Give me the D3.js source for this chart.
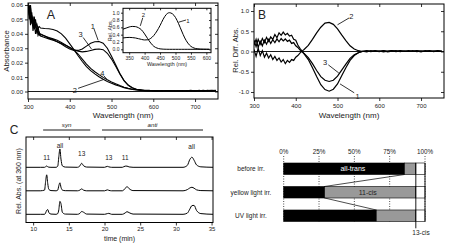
<!DOCTYPE html>
<html>
<head>
<meta charset="utf-8">
<script src="https://cdn.jsdelivr.net/npm/d3@7"></script>
<style>
body { margin: 0; background: #fff; }
svg { display: block; }
</style>
</head>
<body>
<svg id="fig" width="449" height="243"></svg>
<script>
// ---- A : absorption spectra (1 before, 2 yellow, 3 UV, 4) ----
const wlA = [300,303,306,309,312,315,318,321,324,327,330,
  340,350,360,370,380,390,400,410,420,430,440,450,460,470,480,490,500,
  510,520,530,540,550,560,570,580,590,600,610,620,630,640,650,660,670,680,690,700,710,720,730,740,750];
const absA1 = [0.060,0.050,0.058,0.047,0.052,0.043,0.047,0.041,0.043,0.039,0.040,
  0.0385,0.037,0.036,0.0345,0.033,0.031,0.0295,0.0285,0.0285,0.0295,0.0315,0.0335,0.0345,0.0347,0.0335,0.030,0.0245,
  0.0185,0.0125,0.0075,0.0042,0.0024,0.0014,0.001,0.0008,0.0006,0.0006,0.0003,0.0007,0.0004,0.0002,0.0006,0.0003,0.0005,0.0001,0.0006,0.0004,0.0008,0.0002,0.0006,0.0009,0.0005];
const absA2 = [0.057,0.060,0.049,0.055,0.046,0.052,0.045,0.047,0.044,0.045,0.044,
  0.0437,0.0435,0.043,0.042,0.040,0.037,0.033,0.029,0.0248,0.0208,0.0173,0.0145,0.0122,0.0102,0.0085,0.007,0.0057,
  0.0046,0.0036,0.0027,0.002,0.0014,0.001,0.0008,0.0005,0.0007,0.0003,0.0006,0.0002,0.0005,0.0007,0.0003,0.0006,0.0002,0.0005,0.0008,0.0003,0.0005,0.0009,0.0004,0.0006,0.0008];
const absA3 = [0.055,0.059,0.046,0.053,0.042,0.049,0.040,0.044,0.039,0.041,0.0385,
  0.0375,0.0365,0.0355,0.0345,0.0333,0.032,0.0305,0.029,0.028,0.0275,0.0278,0.0285,0.0292,0.0295,0.029,0.0265,0.0225,
  0.0175,0.0122,0.0076,0.0045,0.0026,0.0015,0.0011,0.0007,0.0009,0.0004,0.0006,0.0003,0.0007,0.0004,0.0002,0.0006,0.0004,0.0007,0.0002,0.0006,0.0003,0.0007,0.0005,0.0003,0.0006];
const absA4 = [0.059,0.053,0.060,0.050,0.048,0.046,0.050,0.042,0.045,0.040,0.0395,
  0.0385,0.0375,0.0365,0.0355,0.034,0.0322,0.0305,0.0288,0.026,0.0225,0.019,0.016,0.0137,0.0117,0.0098,0.0081,0.0066,
  0.0053,0.0041,0.003,0.0022,0.0016,0.0012,0.0009,0.0006,0.0004,0.0007,0.0002,0.0005,0.0003,0.0006,0.0004,0.0001,0.0006,0.0003,0.0005,0.0002,0.0006,0.0004,0.0008,0.0003,0.0007];
const wlTicks = [300,400,500,600,700];
const absTicks = [0,0.01,0.02,0.03,0.04,0.05,0.06];
// label, label position, leader from -> to (data units)
const annA = [
  {t:'1', x:455, y:0.0455, from:[458,0.0435], to:[468,0.0355]},
  {t:'3', x:426, y:0.0395, from:[432,0.0375], to:[452,0.0295]},
  {t:'4', x:478, y:0.0128, from:[482,0.0108], to:[488,0.0088]},
  {t:'2', x:412, y:0.0005, from:[420,0.0022], to:[480,0.0082]}
];

// inset : normalised spectra
const wlIn = [330,340,350,360,370,380,390,400,410,420,430,440,450,460,470,480,490,500,510,520,530,540,550,560,570,580,590,600,610];
const relIn1 = [0.31,0.32,0.325,0.32,0.31,0.29,0.27,0.255,0.26,0.30,0.38,0.50,0.65,0.82,0.95,1.0,0.97,0.87,0.70,0.50,0.31,0.17,0.08,0.035,0.015,0.006,0.003,0.001,0];
const relIn2 = [0.55,0.58,0.61,0.625,0.62,0.59,0.53,0.42,0.29,0.17,0.08,0.035,0.012,0.004,0.001,0,0,0,0,0,0,0,0,0,0,0,0,0,0];
const inTicksX = [350,400,450,500,550,600];
const inTicksY = [0,0.2,0.4,0.6,0.8,1.0];
const annIn = [
  {t:'2', x:396, y:0.93, from:[394,0.86], to:[386,0.64]},
  {t:'1', x:540, y:0.78, from:[534,0.8], to:[510,0.74]}
];

// ---- B : difference spectra ----
const wlB = [300,305,310,315,320,325,330,335,340,345,350,355,360,365,370,375,380,385,390,395,400,405,410,415,420,
  430,440,450,460,470,480,490,500,510,520,530,540,550,560,570,580,590,600,610,620,630,640,650,660,670,680,690,700,710,720,730,740,750];
const diffB1 = [0.28,0.12,0.30,0.18,0.32,0.22,0.35,0.25,0.36,0.30,0.42,0.34,0.46,0.40,0.48,0.41,0.45,0.38,0.40,0.30,0.28,0.16,0.08,0.01,-0.06,
  -0.2,-0.4,-0.62,-0.82,-0.94,-0.98,-0.93,-0.8,-0.6,-0.4,-0.22,-0.1,-0.03,0.01,-0.01,0.02,0.0,0.015,-0.01,0.01,0.02,-0.005,0.015,0.0,0.02,0.005,0.015,-0.01,0.02,0.0,0.015,0.005,0.01];
const diffB2 = [0.05,-0.12,0.08,-0.10,0.02,-0.14,-0.04,-0.16,-0.08,-0.20,-0.12,-0.22,-0.16,-0.26,-0.20,-0.30,-0.22,-0.27,-0.20,-0.22,-0.14,-0.10,-0.04,0.01,0.05,
  0.15,0.3,0.46,0.6,0.7,0.72,0.67,0.56,0.41,0.27,0.14,0.06,0.02,0.0,0.02,0.0,0.015,-0.005,0.02,0.005,0.015,0.0,0.02,0.005,0.01,0.0,0.02,0.005,0.01,0.015,0.0,0.02,0.005];
const diffB3 = [0.15,0.30,0.10,0.25,0.14,0.28,0.18,0.30,0.20,0.29,0.22,0.31,0.24,0.32,0.26,0.31,0.25,0.28,0.20,0.22,0.14,0.10,0.04,-0.01,-0.05,
  -0.15,-0.3,-0.47,-0.62,-0.71,-0.74,-0.71,-0.61,-0.46,-0.31,-0.17,-0.08,-0.03,0.0,0.015,-0.005,0.02,0.0,0.02,-0.01,0.01,0.02,-0.005,0.015,0.0,0.02,-0.005,0.015,0.0,0.02,-0.005,0.015,0.0];
const diffTicks = [-1,-0.5,0,0.5,1];
const annB = [
  {t:'2', x:533, y:0.86, from:[528,0.83], to:[500,0.66]},
  {t:'3', x:470, y:-0.27, from:[478,-0.33], to:[503,-0.53]},
  {t:'1', x:548, y:-1.1, from:[540,-1.02], to:[506,-0.8]}
];

// ---- C : HPLC chromatograms (before irr., yellow, UV) ----
const tC = [9.0,11.0,11.6,11.75,11.9,12.05,12.2,12.5,13.2,13.45,13.6,13.75,13.9,14.1,14.5,16.2,16.55,16.8,17.05,17.5,
  20.0,20.4,20.6,21.0,22.5,22.9,23.15,23.45,24.0,31.0,31.6,31.95,32.25,32.55,32.9,33.5,35.2];
const hplcBefore = [0,0,0,0.02,0.06,0.02,0.005,0,0,0.05,0.45,0.78,0.35,0.06,0.01,0,0.06,0.17,0.07,0.01,
  0,0.04,0.02,0,0,0.05,0.05,0.015,0,0,0.08,0.33,0.43,0.30,0.10,0.02,0];
const hplcYellow = [0,0,0.03,0.40,0.68,0.30,0.06,0.01,0,0.03,0.22,0.34,0.15,0.03,0.005,0,0.03,0.08,0.03,0,
  0,0.04,0.02,0,0,0.10,0.18,0.09,0.01,0,0.05,0.12,0.15,0.11,0.04,0.01,0];
const hplcUV = [0,0,0,0.06,0.17,0.20,0.07,0.01,0,0.03,0.20,0.55,0.45,0.08,0.01,0,0.04,0.12,0.09,0.01,
  0,0.03,0.04,0,0,0.06,0.11,0.07,0.01,0,0.05,0.22,0.37,0.38,0.16,0.03,0];
const timeTicks = [10,15,20,25,30,35];
const peakLabels = [
  {t:'11', time:11.9, h:0.31}, {t:'all', time:13.75, h:0.84}, {t:'13', time:16.8, h:0.46},
  {t:'13', time:20.6, h:0.31}, {t:'11', time:22.9, h:0.31}, {t:'all', time:32.2, h:0.76}
];
const groups = [{t:'syn', from:11.4, to:18.0}, {t:'anti', from:19.65, to:33.8}];

// ---- D : isomer composition (%) ----
const conditions = ['before irr.', 'yellow light irr.', 'UV light irr.'];
const allTrans = [85.5, 29, 65.5];
const elevenCis = [8, 64.5, 28];
const thirteenCis = [6.5, 6.5, 6.5];
const pctTicks = [0,25,50,75,100];

// ----------------------------------------------------------
const FONT = '"Liberation Sans", Arial, Helvetica, sans-serif';
const svg = d3.select('#fig').attr('font-family', FONT);

function frame(x0, y0, x1, y1, fill) {
  svg.append('rect').attr('x', x0).attr('y', y0)
    .attr('width', x1 - x0).attr('height', y1 - y0)
    .attr('fill', fill || 'none').attr('stroke', '#000').attr('stroke-width', 1);
}

function axis(gen, tx, ty, fs) {
  const g = svg.append('g').attr('transform', `translate(${tx},${ty})`).call(gen);
  g.attr('font-family', FONT).attr('font-size', fs);
  g.select('.domain').remove();
  g.selectAll('.tick line').attr('stroke', '#000').attr('stroke-width', 0.8);
  g.selectAll('.tick text').attr('fill', '#222');
  return g;
}

function clip(id, x0, y0, x1, y1) {
  svg.append('clipPath').attr('id', id).append('rect')
    .attr('x', x0).attr('y', y0).attr('width', x1 - x0).attr('height', y1 - y0);
}

function label(t, x, y, fs, opts) {
  const o = opts || {};
  const el = svg.append('text').attr('x', x).attr('y', y).attr('font-size', fs)
    .attr('text-anchor', o.anchor || 'middle').attr('fill', o.fill || '#222').text(t);
  if (o.rotate) el.attr('transform', `rotate(-90,${x},${y})`);
  if (o.italic) el.attr('font-style', 'italic');
  return el;
}

function annotate(list, xs, ys, fs) {
  list.forEach(a => {
    svg.append('line')
      .attr('x1', xs(a.from[0])).attr('y1', ys(a.from[1]))
      .attr('x2', xs(a.to[0])).attr('y2', ys(a.to[1]))
      .attr('stroke', '#000').attr('stroke-width', 0.8);
    label(a.t, xs(a.x), ys(a.y) + fs * 0.35, fs);
  });
}

// ===== panel A =====
const xA = d3.scaleLinear().domain([300, 755]).range([28, 218]);
const yA = d3.scaleLinear().domain([0, 0.06]).range([91.5, 5]);
clip('clipA', 28, 3, 218, 99);
const gA = svg.append('g').attr('clip-path', 'url(#clipA)');
gA.append('line').attr('x1', xA(300)).attr('x2', xA(755))
  .attr('y1', yA(0)).attr('y2', yA(0)).attr('stroke', '#000').attr('stroke-width', 0.9);
const lineA = d3.line().x(d => xA(d[0])).y(d => yA(d[1]));
[absA1, absA2, absA3, absA4].forEach(s => {
  gA.append('path').datum(d3.zip(wlA, s)).attr('d', lineA)
    .attr('fill', 'none').attr('stroke', '#000').attr('stroke-width', 1.1);
});
frame(28, 3, 218, 99);
axis(d3.axisBottom(xA).tickValues(wlTicks).tickSize(3).tickPadding(3), 0, 99, 6);
axis(d3.axisLeft(yA).tickValues(absTicks).tickFormat(d => d.toFixed(2)).tickSize(3).tickPadding(2), 28, 0, 6);
axis(d3.axisTop(xA).tickValues(wlTicks).tickSize(-3).tickFormat(''), 0, 3, 6);
axis(d3.axisRight(yA).tickValues(absTicks).tickSize(-3).tickFormat(''), 218, 0, 6);
label('Wavelength (nm)', 123, 117.5, 8);
label('Absorbance', 9, 51, 7.8, {rotate: true});
label('A', 51, 19, 12.5);
annotate(annA, xA, yA, 7.5);

// inset
const xIn = d3.scaleLinear().domain([330, 615]).range([123, 211]);
const yIn = d3.scaleLinear().domain([0, 1]).range([49.3, 12.7]);
frame(123, 8.3, 211, 52.7, '#fff');
const lineIn = d3.line().x(d => xIn(d[0])).y(d => yIn(d[1])).curve(d3.curveMonotoneX);
[relIn1, relIn2].forEach(s => {
  svg.append('path').datum(d3.zip(wlIn, s)).attr('d', lineIn)
    .attr('fill', 'none').attr('stroke', '#000').attr('stroke-width', 1);
});
axis(d3.axisBottom(xIn).tickValues(inTicksX).tickSize(2).tickPadding(1.5), 0, 52.7, 5);
axis(d3.axisLeft(yIn).tickValues(inTicksY).tickFormat(d => d.toFixed(1)).tickSize(2).tickPadding(1.5), 123, 0, 5);
axis(d3.axisRight(yIn).tickValues(inTicksY).tickSize(-2).tickFormat(''), 211, 0, 5);
axis(d3.axisTop(xIn).tickValues(inTicksX).tickSize(-2).tickFormat(''), 0, 8.3, 5);
label('Wavelength (nm)', 167, 66, 5.3);
label('Rel. Abs.', 111.5, 30.5, 5.4, {rotate: true});
annotate(annIn, xIn, yIn, 6);

// ===== panel B =====
const xB = d3.scaleLinear().domain([300, 755]).range([254, 444]);
const yB = d3.scaleLinear().domain([-1, 1]).range([92, 11]);
clip('clipB', 254, 4, 444, 98);
const gB = svg.append('g').attr('clip-path', 'url(#clipB)');
gB.append('line').attr('x1', xB(300)).attr('x2', xB(755))
  .attr('y1', yB(0)).attr('y2', yB(0)).attr('stroke', '#000').attr('stroke-width', 0.9);
const lineB = d3.line().x(d => xB(d[0])).y(d => yB(d[1]));
[diffB1, diffB2, diffB3].forEach(s => {
  gB.append('path').datum(d3.zip(wlB, s)).attr('d', lineB)
    .attr('fill', 'none').attr('stroke', '#000').attr('stroke-width', 1.2);
});
frame(254, 4, 444, 98);
axis(d3.axisBottom(xB).tickValues(wlTicks).tickSize(3).tickPadding(3), 0, 98, 6);
axis(d3.axisLeft(yB).tickValues(diffTicks).tickFormat(d => d.toFixed(1)).tickSize(3).tickPadding(2), 254, 0, 6);
axis(d3.axisTop(xB).tickValues(wlTicks).tickSize(-3).tickFormat(''), 0, 4, 6);
axis(d3.axisRight(yB).tickValues(diffTicks).tickSize(-3).tickFormat(''), 444, 0, 6);
label('Wavelength (nm)', 349, 117.5, 8);
label('Rel. Diff. Abs.', 238, 50, 7.5, {rotate: true});
label('B', 262, 18.5, 12);
annotate(annB, xB, yB, 7.5);

// ===== panel C =====
const xC = d3.scaleLinear().domain([9, 35.2]).range([26, 213]);
const yC = d3.scaleLinear().domain([0, 1]).range([214.3, 190.8]);
const traceOffset = [2, 1, 0];
const lineC = d3.line().x(d => xC(d[0])).y(d => yC(d[1])).curve(d3.curveMonotoneX);
[hplcBefore, hplcYellow, hplcUV].forEach((s, i) => {
  svg.append('path').datum(d3.zip(tC, s.map(v => v + traceOffset[i]))).attr('d', lineC)
    .attr('fill', 'none').attr('stroke', '#000').attr('stroke-width', 1);
});
frame(26, 137, 213, 222.5);
axis(d3.axisBottom(xC).tickValues(timeTicks).tickSize(3).tickPadding(1.5), 0, 222.5, 6);
axis(d3.axisTop(xC).tickValues(timeTicks).tickSize(-3).tickFormat(''), 0, 137, 6);
label('time (min)', 119.5, 240.5, 7);
label('Rel. Abs. (at 360 nm)', 21, 181, 7, {rotate: true});
label('C', 14, 133.5, 12);
peakLabels.forEach(p => label(p.t, xC(p.time), yC(traceOffset[0] + p.h), 6.5));
groups.forEach(gp => {
  svg.append('line').attr('x1', xC(gp.from)).attr('x2', xC(gp.to))
    .attr('y1', 130).attr('y2', 130).attr('stroke', '#000').attr('stroke-width', 0.9);
  label(gp.t, xC((gp.from + gp.to) / 2), 127, 6.2, {italic: true});
});

// ===== panel D =====
const xD = d3.scaleLinear().domain([0, 100]).range([283.7, 425]);
const yD = d3.scaleBand().domain(conditions).range([163, 221.5]).paddingInner(0.51).paddingOuter(0);
pctTicks.forEach(p => {
  svg.append('line').attr('x1', xD(p)).attr('x2', xD(p)).attr('y1', 156).attr('y2', 221.5)
    .attr('stroke', '#000').attr('stroke-width', 0.7).attr('stroke-dasharray', '1,1.5');
  label(p + '%', xD(p), 153.5, 6.3);
});
conditions.forEach((c, i) => {
  const segs = [
    [0, allTrans[i], '#000'],
    [allTrans[i], allTrans[i] + elevenCis[i], '#999'],
    [allTrans[i] + elevenCis[i], 100, '#fff']
  ];
  segs.forEach(s => {
    svg.append('rect').attr('x', xD(s[0])).attr('y', yD(c))
      .attr('width', xD(s[1]) - xD(s[0])).attr('height', yD.bandwidth())
      .attr('fill', s[2]).attr('stroke', '#000').attr('stroke-width', 0.6);
  });
  label(c, 251, yD(c) + yD.bandwidth() / 2 + 2.3, 6.5);
  if (i > 0) {
    const p = conditions[i - 1];
    svg.append('line').attr('x1', xD(allTrans[i - 1])).attr('y1', yD(p) + yD.bandwidth())
      .attr('x2', xD(allTrans[i])).attr('y2', yD(c))
      .attr('stroke', '#000').attr('stroke-width', 0.7);
  }
});
// 13-cis column
svg.append('line').attr('x1', xD(100 - thirteenCis[0])).attr('x2', xD(100 - thirteenCis[0]))
  .attr('y1', yD(conditions[0])).attr('y2', 228.3).attr('stroke', '#000').attr('stroke-width', 0.9);
svg.append('line').attr('x1', xD(100)).attr('x2', xD(100))
  .attr('y1', yD(conditions[0])).attr('y2', yD(conditions[2]) + yD.bandwidth())
  .attr('stroke', '#000').attr('stroke-width', 0.9);
label('all-trans', xD(49), yD(conditions[0]) + yD.bandwidth() / 2 + 2.5, 7, {fill: '#fff'});
label('11-cis', xD(59.5), yD(conditions[1]) + yD.bandwidth() / 2 + 2.5, 7);
label('13-cis', xD(97.2), 234.5, 6.5);
</script>
</body>
</html>
